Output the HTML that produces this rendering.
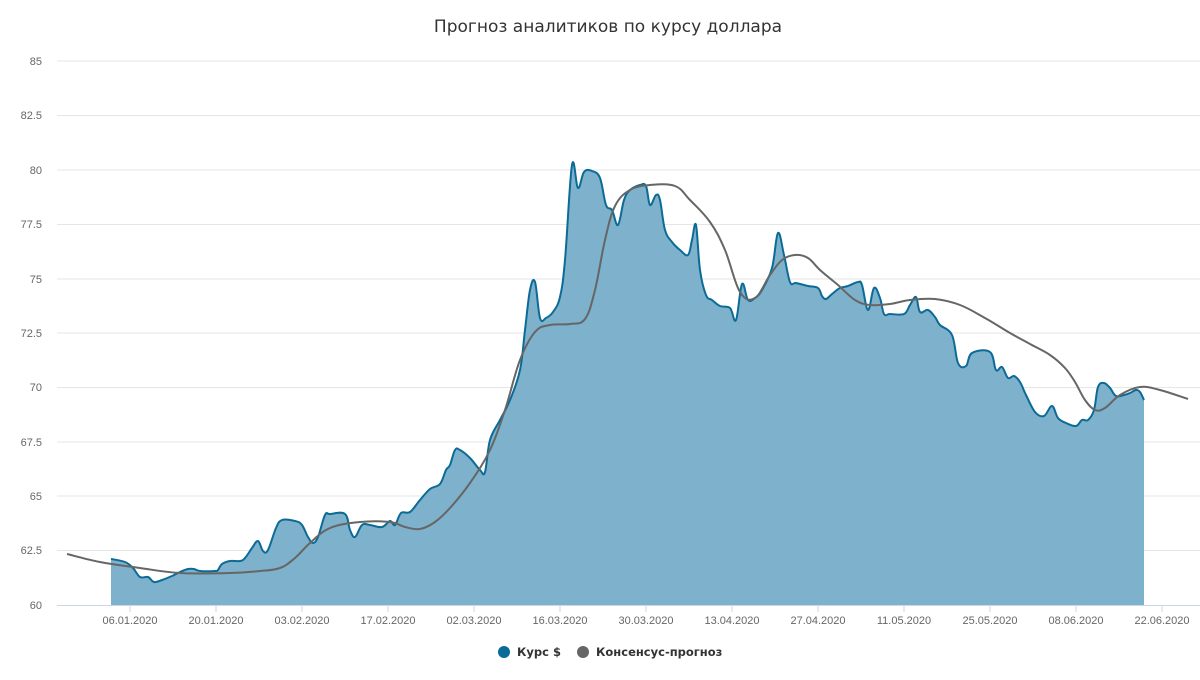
<!DOCTYPE html>
<html><head><meta charset="utf-8"><style>
body{margin:0;background:#fff;width:1200px;height:675px;overflow:hidden}
svg text{font-family:"Liberation Sans","DejaVu Sans",sans-serif}
</style></head><body>
<svg id="s" width="1200" height="675" xmlns="http://www.w3.org/2000/svg">
<text x="608" y="32" text-anchor="middle" font-size="17" fill="#333" style="font-family:'DejaVu Sans',sans-serif">Прогноз аналитиков по курсу доллара</text>
<g stroke="#e6e6e6" stroke-width="1">
<line x1="57" x2="1200" y1="61" y2="61"/><line x1="57" x2="1200" y1="115.5" y2="115.5"/><line x1="57" x2="1200" y1="170" y2="170"/><line x1="57" x2="1200" y1="224.5" y2="224.5"/><line x1="57" x2="1200" y1="279" y2="279"/><line x1="57" x2="1200" y1="333" y2="333"/><line x1="57" x2="1200" y1="387.5" y2="387.5"/><line x1="57" x2="1200" y1="442" y2="442"/><line x1="57" x2="1200" y1="496" y2="496"/><line x1="57" x2="1200" y1="550.5" y2="550.5"/>
</g>
<line x1="57" x2="1200" y1="605.5" y2="605.5" stroke="#ccd6eb"/>
<g font-size="11" fill="#666" text-anchor="end" style="font-family:'DejaVu Sans',sans-serif">
<text x="42" y="65">85</text><text x="42" y="119">82.5</text><text x="42" y="174">80</text><text x="42" y="228">77.5</text><text x="42" y="283">75</text><text x="42" y="337">72.5</text><text x="42" y="391">70</text><text x="42" y="446">67.5</text><text x="42" y="500">65</text><text x="42" y="554">62.5</text><text x="42" y="609">60</text>
</g>
<g id="xt" font-size="11" fill="#666" text-anchor="middle" style="font-family:'DejaVu Sans',sans-serif"></g>
<path id="area" fill="#7eb1cb" stroke="none"/>
<path id="blue" fill="none" stroke="#0b6b96" stroke-width="2"/>
<path id="gray" fill="none" stroke="#666" stroke-width="2"/>
<circle cx="504" cy="652" r="6" fill="#0b6b96"/>
<text x="517" y="656" font-size="11.5" font-weight="bold" fill="#333" style="font-family:'DejaVu Sans',sans-serif">Курс $</text>
<circle cx="583" cy="652" r="6" fill="#666"/>
<text x="596" y="656" font-size="11.5" font-weight="bold" fill="#333" style="font-family:'DejaVu Sans',sans-serif">Консенсус-прогноз</text>
</svg>
<script>
var labels=["06.01.2020","20.01.2020","03.02.2020","17.02.2020","02.03.2020","16.03.2020","30.03.2020","13.04.2020","27.04.2020","11.05.2020","25.05.2020","08.06.2020","22.06.2020"];
var xt=document.getElementById('xt'),h='';
labels.forEach(function(l,i){var x=130+86*i;h+='<line x1="'+x+'" x2="'+x+'" y1="605" y2="612" stroke="#ccd6eb"/><text x="'+x+'" y="624">'+l+'</text>';});
xt.innerHTML=h;
var B=[[111,559],[125,562],[133,568],[140,577],[148,577],[154,582],[162,580],[172,576],[180,572],[188,569],[194,569],[200,571],[215,571],[218,570],[222,564],[230,561],[240,561],[245,558],[252,548],[258,541],[263,551],[268,550],[276,528],[282,520],[295,521],[302,525],[308,537],[313,543],[318,537],[325,515],[330,514],[345,514],[350,530],[355,537],[362,525],[370,525],[382,527],[390,521],[395,525],[401,513],[410,512],[420,500],[430,489],[440,484],[446,470],[450,465],[455,450],[460,450],[470,458],[480,470],[485,472],[490,440],[500,420],[510,400],[520,370],[525,330],[530,290],[535,282],[540,318],[546,318],[553,312],[560,297],[565,260],[572,165],[578,188],[584,172],[592,171],[600,178],[606,205],[612,210],[618,225],[624,200],[630,190],[640,185],[646,186],[650,205],[656,195],[660,200],[665,230],[672,242],[680,250],[688,255],[692,240],[696,225],[700,270],[706,295],[712,300],[720,306],[730,308],[736,320],[742,284],[748,300],[755,298],[762,290],[772,268],[778,233],[784,255],[790,282],[796,283],[808,286],[818,288],[822,296],[826,299],[832,294],[840,288],[848,286],[858,282],[862,285],[868,310],[874,288],[880,298],[884,314],[890,314],[904,314],[910,305],[916,297],[920,312],[928,310],[935,317],[940,325],[952,335],[958,363],[966,366],[972,353],[990,352],[996,370],[1002,367],[1008,378],[1014,376],[1020,382],[1026,395],[1035,412],[1044,416],[1052,406],[1058,418],[1066,423],[1076,426],[1082,420],[1088,420],[1094,410],[1098,387],[1104,383],[1110,388],[1116,396],[1124,395],[1130,393],[1136,390],[1140,392],[1144,400]];
var G=[[67,554],[100,562],[140,568],[180,573],[230,573],[260,571],[280,568],[295,558],[310,543],[330,528],[360,522],[390,522],[405,527],[420,529],[435,522],[450,508],[470,483],[490,450],[505,410],[520,360],[535,332],[550,325],[570,324],[585,319],[595,290],[605,240],[615,206],[630,190],[650,185],[675,186],[690,200],[710,222],[725,250],[740,292],[755,298],[770,275],[782,260],[795,255],[808,258],[820,270],[838,285],[855,300],[870,305],[890,304],[910,300],[935,299],[960,305],[985,318],[1010,333],[1030,344],[1050,355],[1065,368],[1075,382],[1085,400],[1095,410],[1105,408],[1120,395],[1140,387],[1160,390],[1188,399]];
function smooth(p){var d='M'+p[0][0]+','+p[0][1];for(var i=0;i<p.length-1;i++){var p0=p[i-1]||p[i],p1=p[i],p2=p[i+1],p3=p[i+2]||p2;var t=0.18;
var c1x=p1[0]+(p2[0]-p0[0])*t,c1y=p1[1]+(p2[1]-p0[1])*t,c2x=p2[0]-(p3[0]-p1[0])*t,c2y=p2[1]-(p3[1]-p1[1])*t;
d+=' C'+c1x.toFixed(1)+','+c1y.toFixed(1)+' '+c2x.toFixed(1)+','+c2y.toFixed(1)+' '+p2[0]+','+p2[1];}return d;}
var bd=smooth(B);
document.getElementById('blue').setAttribute('d',bd);
document.getElementById('area').setAttribute('d',bd+' L1144,605 L111,605 Z');
document.getElementById('gray').setAttribute('d',smooth(G));
</script>
</body></html>
